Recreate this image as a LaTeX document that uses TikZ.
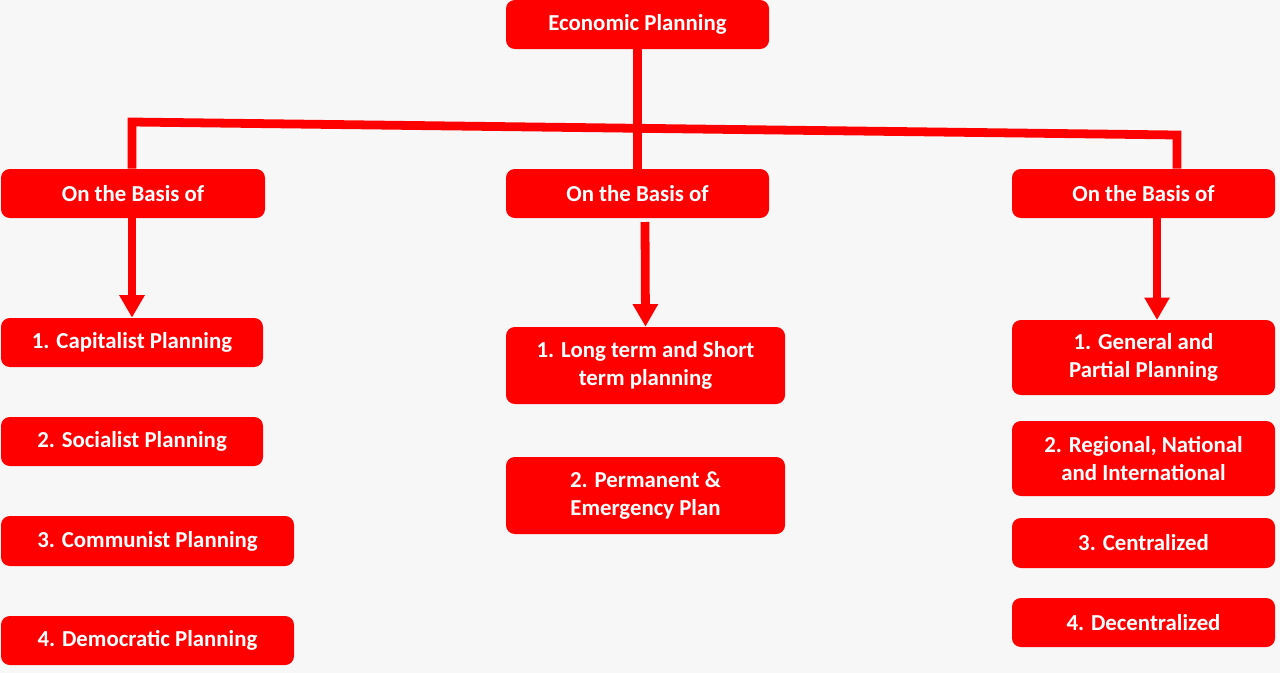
\documentclass[tikz,border=0pt]{standalone}
\usepackage{fontspec}
\setmainfont{Carlito}
\usetikzlibrary{arrows.meta}
\definecolor{planred}{HTML}{FF0000}
\definecolor{bggray}{HTML}{F7F7F7}
\begin{document}
\begin{tikzpicture}[x = 0.02cm, y = -0.02cm, > = {Triangle[length = 0.45cm, width = 0.48cm]},
	box/.style = {fill = planred, rounded corners = 5pt, text = white, align = center,
		font = \bfseries\fontsize{13}{16}\selectfont, inner sep = 0pt},
	link/.style = {draw = planred, line width = 5pt}]

\fill [bggray] (0, 0) rectangle (1280, 673);

% top
\node [box, minimum width = 263*0.02cm, minimum height = 49*0.02cm] (econ) at (637.5, 24.5) {Economic Planning};

% second row
\node [box, minimum width = 264*0.02cm, minimum height = 49*0.02cm] (basisL) at (133, 193.5) {On the Basis of};
\node [box, minimum width = 263*0.02cm, minimum height = 49*0.02cm] (basisM) at (637.5, 193.5) {On the Basis of};
\node [box, minimum width = 263*0.02cm, minimum height = 49*0.02cm] (basisR) at (1143.5, 193.5) {On the Basis of};

% left column
\node [box, minimum width = 262*0.02cm, minimum height = 49*0.02cm] (cap) at (132, 342.5) {1. Capitalist Planning};
\node [box, minimum width = 262*0.02cm, minimum height = 49*0.02cm] (soc) at (132, 441.5) {2. Socialist Planning};
\node [box, minimum width = 293*0.02cm, minimum height = 50*0.02cm] (com) at (147.5, 541) {3. Communist Planning};
\node [box, minimum width = 293*0.02cm, minimum height = 49*0.02cm] (dem) at (147.5, 640.5) {4. Democratic Planning};

% middle column
\node [box, minimum width = 279*0.02cm, minimum height = 77*0.02cm] (longterm) at (645.5, 365.5) {1. Long term and Short\\term planning};
\node [box, minimum width = 279*0.02cm, minimum height = 77*0.02cm] (perm) at (645.5, 495.5) {2. Permanent \&\\Emergency Plan};

% right column
\node [box, minimum width = 263*0.02cm, minimum height = 75*0.02cm] (general) at (1143.5, 357.5) {1. General and\\Partial Planning};
\node [box, minimum width = 263*0.02cm, minimum height = 75*0.02cm] (regional) at (1143.5, 458.5) {2. Regional, National\\and International};
\node [box, minimum width = 263*0.02cm, minimum height = 50*0.02cm] (central) at (1143.5, 543) {3. Centralized};
\node [box, minimum width = 263*0.02cm, minimum height = 49*0.02cm] (decentral) at (1143.5, 622.5) {4. Decentralized};

% connectors
\coordinate (forkL) at (132, 122);
\coordinate (forkR) at (1177, 135);
\draw [link] (econ.south) -- (basisM.north);
\draw [link] (basisL.north -| forkL) -- (forkL) -- (forkR) -- (basisR.north -| forkR);

\draw [link, ->] (basisL.south -| cap.north) -- (cap.north);
\draw [link, ->] (645, 222) -- (longterm.north);
\draw [link, ->] (1157, 218) -- (1157, 320);

\end{tikzpicture}
\end{document}
